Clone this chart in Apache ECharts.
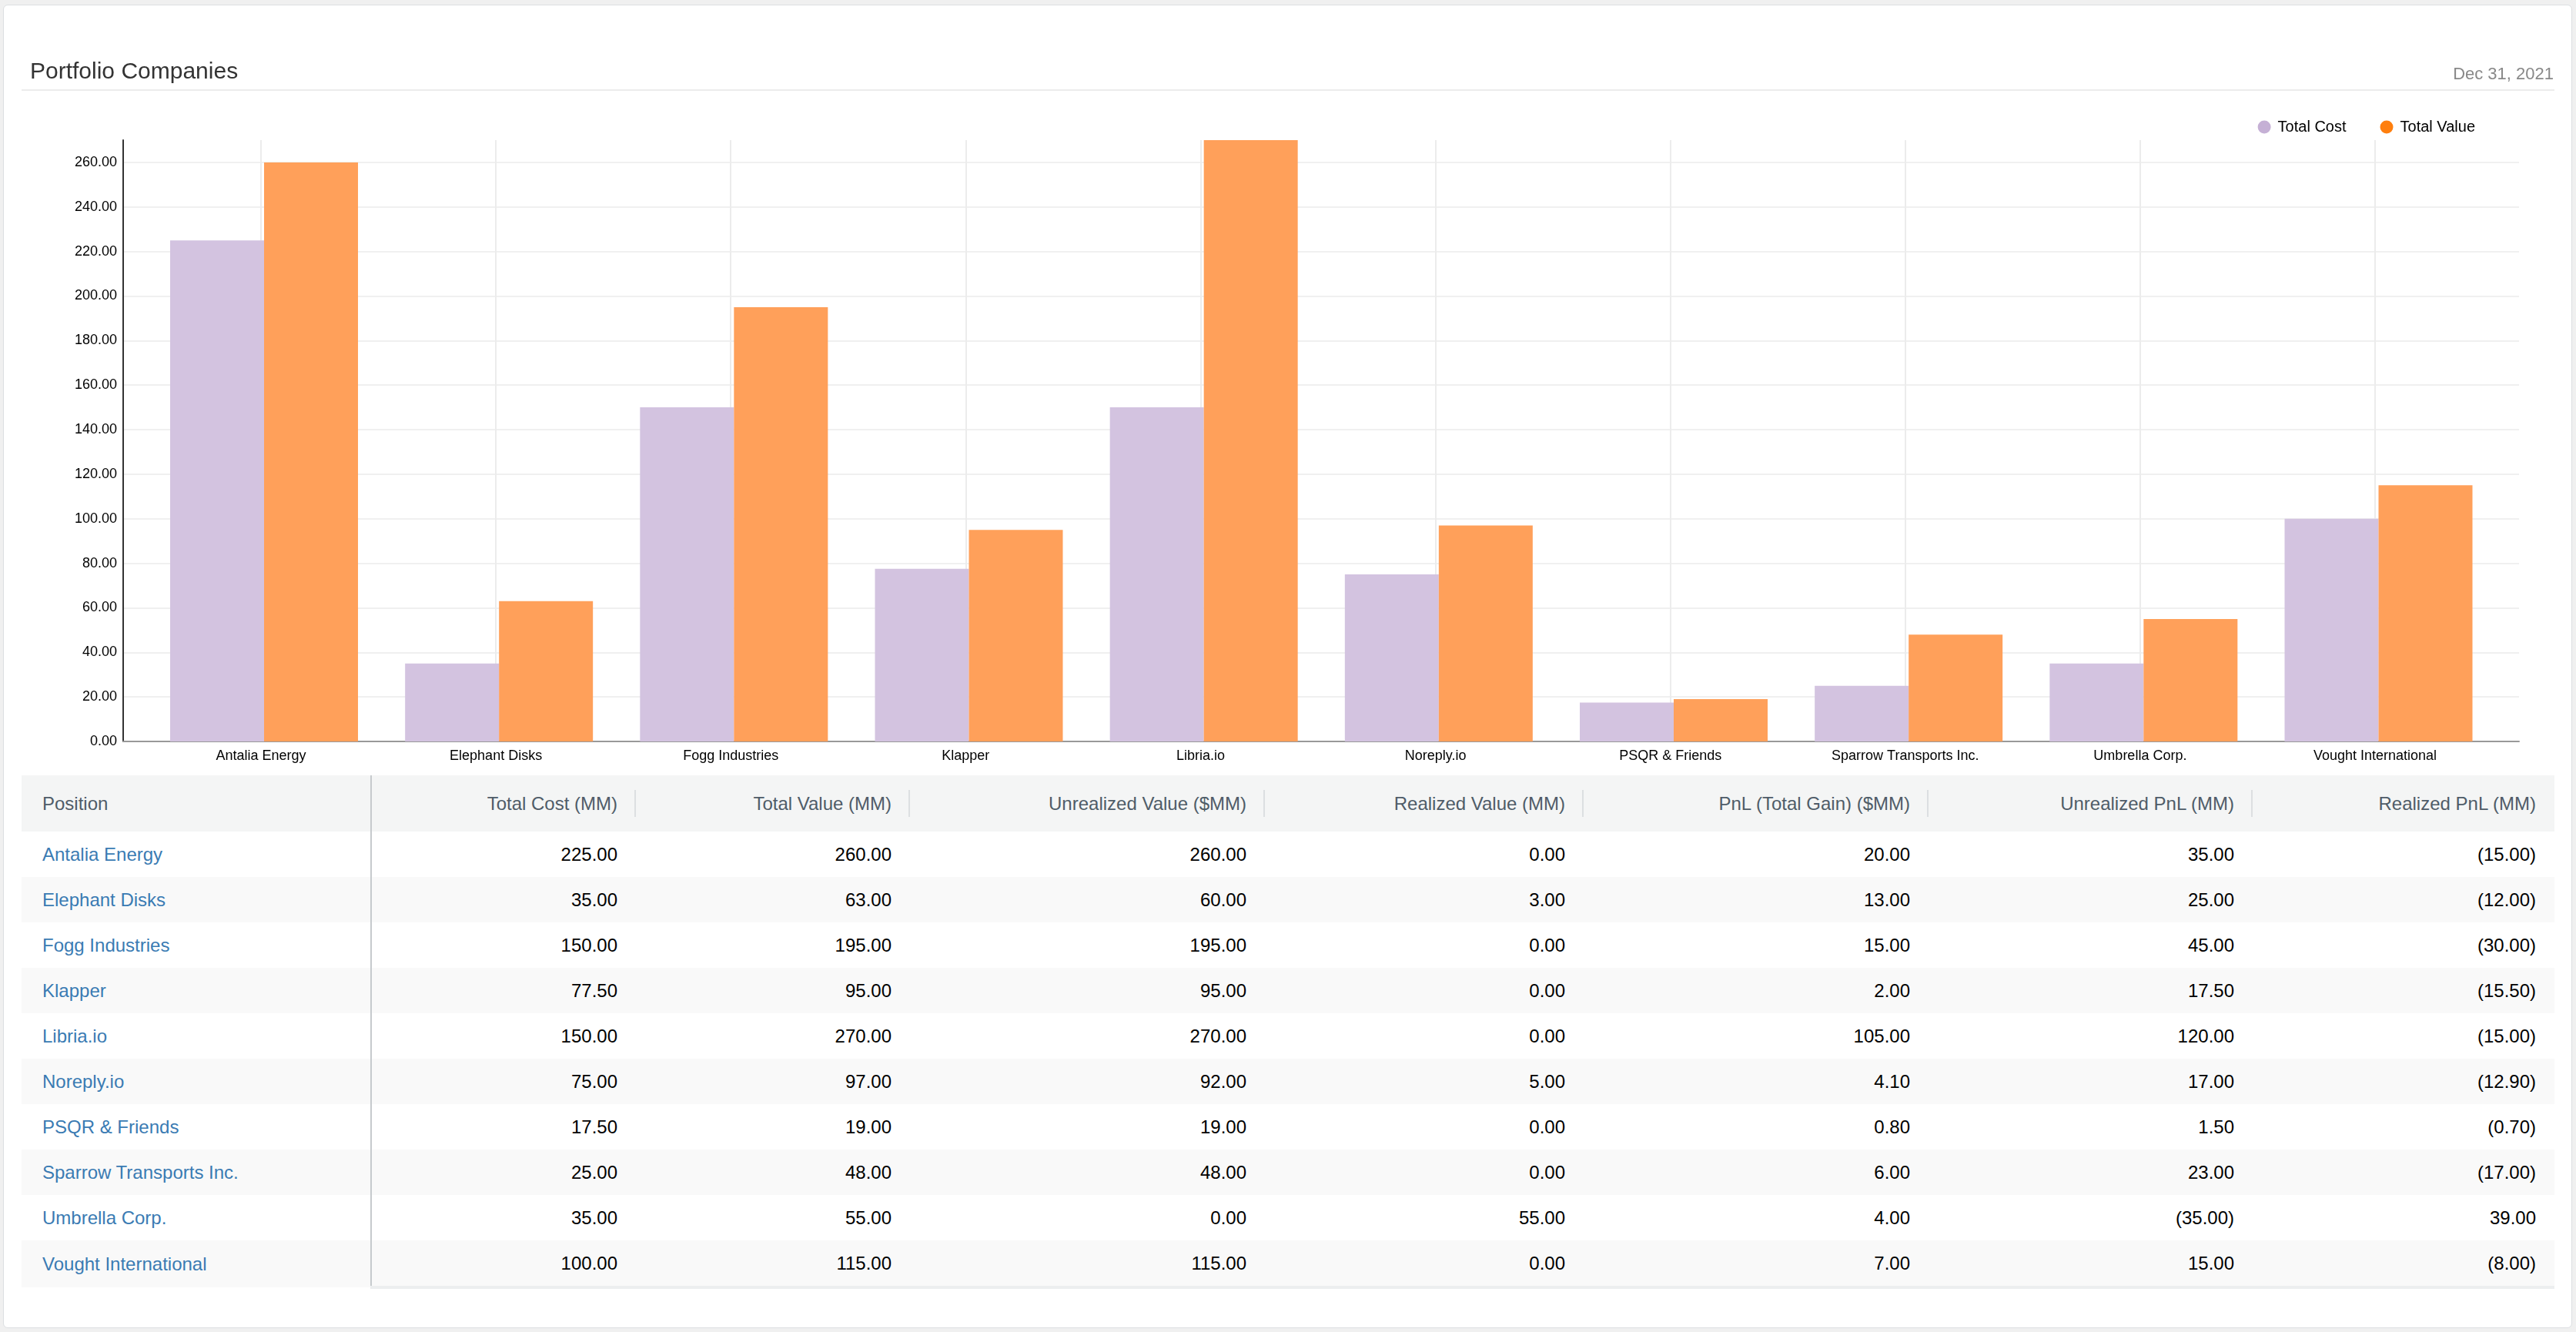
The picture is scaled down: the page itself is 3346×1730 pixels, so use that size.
<!DOCTYPE html>
<html>
<head>
<meta charset="utf-8">
<title>Portfolio Companies</title>
<script src="https://cdn.jsdelivr.net/npm/echarts@6/dist/echarts.min.js"></script>
<style>
  html, body { margin: 0; padding: 0; background: #f0f0f0; }
  body { width: 3346px; height: 1730px; position: relative; overflow: hidden; font-family: "Liberation Sans", Arial, Helvetica, sans-serif; }
  .card { position: absolute; left: 4px; top: 6px; width: 3335px; height: 1717px; background: #fff; border: 1px solid #dcdfe2; border-radius: 6px; }
  #brokeBar { position: absolute; left: 0; top: 0; width: 3346px; height: 1000px; }
  table.positions { position: absolute; left: 28px; top: 1007px; width: 3290px; border-collapse: collapse; table-layout: fixed; font-size: 24px; }
  table.positions th { height: 73px; background: #f4f5f5; color: #4f5c68; font-weight: normal; text-align: right; padding: 0 24px 0 0; position: relative; }
  table.positions td { height: 59px; text-align: right; padding: 0 24px 0 0; color: #000; }
  table.positions th:first-child, table.positions td:first-child { text-align: left; padding: 0 0 0 27px; border-right: 2px solid #c6cacd; }
  table.positions th:not(:first-child):not(:last-child)::after { content: ''; position: absolute; right: 0; top: 19px; width: 2px; height: 35px; background: #dcdfe1; }
  table.positions tbody tr:nth-child(even) td { background: #f9f9f9; }
  table.positions tbody tr:last-child td:not(:first-child) { border-bottom: 4px solid #eceeef; }
  table.positions a { color: #3a7bb3; text-decoration: none; }
</style>
</head>
<body>
<div class="card"></div>
<div id="brokeBar"></div>
<table class="positions" id="positions"></table>
<script>
var companies = ['Antalia Energy', 'Elephant Disks', 'Fogg Industries', 'Klapper', 'Libria.io', 'Noreply.io', 'PSQR & Friends', 'Sparrow Transports Inc.', 'Umbrella Corp.', 'Vought International']
var totalCost = [225, 35, 150, 77.5, 150, 75, 17.5, 25, 35, 100]
var totalValue = [260, 63, 195, 95, 270, 97, 19, 48, 55, 115]
var unrealizedValue = [260, 60, 195, 95, 270, 92, 19, 48, 0, 115]
var realizedValue = [0, 3, 0, 0, 0, 5, 0, 0, 55, 0]
var pnlTotal = [20, 13, 15, 2, 105, 4.1, 0.8, 6, 4, 7]
var unrealizedPnl = [35, 25, 45, 17.5, 120, 17, 1.5, 23, -35, 15]
var realizedPnl = [-15, -12, -30, -15.5, -15, -12.9, -0.7, -17, 39, -8]
var tableHeaders = ['Position', 'Total Cost (MM)', 'Total Value (MM)', 'Unrealized Value ($MM)', 'Realized Value (MM)', 'PnL (Total Gain) ($MM)', 'Unrealized PnL (MM)', 'Realized PnL (MM)']
var columnWidths = [454, 344, 356, 461, 414, 448, 421, 392]

var fontFamily = '"Liberation Sans", Arial, Helvetica, sans-serif'
var myChart = echarts.init(document.getElementById('brokeBar'))

var option = {
  animation: false,
  textStyle: { fontFamily: fontFamily },
  title: [
    {
      text: 'Portfolio Companies',
      left: 34,
      top: 74,
      textStyle: { fontSize: 30, fontWeight: 'normal', color: '#333', fontFamily: fontFamily }
    },
    {
      text: 'Dec 31, 2021',
      right: 24,
      top: 81,
      textStyle: { fontSize: 22, fontWeight: 'normal', color: '#888', fontFamily: fontFamily }
    }
  ],
  graphic: [
    {
      type: 'line',
      shape: { x1: 28, y1: 117, x2: 3318, y2: 117 },
      style: { stroke: '#ececec', lineWidth: 2 }
    }
  ],
  legend: {
    right: 126,
    top: 150,
    icon: 'circle',
    itemWidth: 17,
    itemHeight: 17,
    itemGap: 44,
    textStyle: { fontSize: 20, color: '#000', padding: [0, 0, 0, 4] },
    data: [
      { name: 'Total Cost', itemStyle: { color: '#c5b0d5' } },
      { name: 'Total Value', itemStyle: { color: '#ff7f0e' } }
    ]
  },
  grid: [
    // 网格 + 轴线
    { left: 160, right: 74, top: 182, height: 781 },
    // 类目标签 + 竖向网格线
    { left: 339, right: 261, top: 182, height: 781 },
    // 柱子
    { left: 343, right: 256.5, top: 182, height: 781 }
  ],
  xAxis: [
    {
      gridIndex: 0,
      type: 'value',
      min: 0,
      max: 1,
      axisLine: { show: true, lineStyle: { color: '#999', width: 2 } },
      axisTick: { show: false },
      axisLabel: { show: false },
      splitLine: { show: false }
    },
    {
      gridIndex: 1,
      type: 'category',
      boundaryGap: false,
      data: companies,
      axisLine: { show: false },
      axisTick: { show: false },
      axisLabel: { interval: 0, fontSize: 18, color: '#000', margin: 10 },
      splitLine: { show: true, interval: 0, lineStyle: { color: '#ececec', width: 2 } }
    },
    {
      gridIndex: 2,
      type: 'category',
      boundaryGap: false,
      data: companies,
      show: false
    }
  ],
  yAxis: [
    {
      gridIndex: 0,
      type: 'value',
      min: 0,
      max: 270,
      interval: 20,
      axisLine: { show: true, lineStyle: { color: '#333', width: 2 } },
      axisTick: { show: false },
      axisLabel: {
        fontSize: 18,
        color: '#000',
        margin: 8,
        showMaxLabel: false,
        formatter: function (v) {
          return v.toFixed(2)
        }
      },
      splitLine: { show: true, showMaxLine: false, lineStyle: { color: '#f0f0f0', width: 2 } }
    },
    { gridIndex: 1, type: 'value', min: 0, max: 270, show: false, splitLine: { show: false } },
    { gridIndex: 2, type: 'value', min: 0, max: 270, show: false, splitLine: { show: false } }
  ],
  series: [
    {
      name: 'Total Cost',
      type: 'bar',
      xAxisIndex: 2,
      yAxisIndex: 2,
      barWidth: 122,
      barGap: '0%',
      clip: false,
      itemStyle: { color: '#d3c3e0' },
      data: totalCost
    },
    {
      name: 'Total Value',
      type: 'bar',
      xAxisIndex: 2,
      yAxisIndex: 2,
      barWidth: 122,
      barGap: '0%',
      clip: false,
      itemStyle: { color: '#ffa05a' },
      data: totalValue
    }
  ]
}
myChart.setOption(option, true)

// 表格
function fmt(v) {
  var s = Math.abs(v).toFixed(2)
  return v < 0 ? '(' + s + ')' : s
}
var html = '<colgroup>'
for (var c = 0; c < columnWidths.length; c++) {
  html += '<col style="width:' + columnWidths[c] + 'px">'
}
html += '</colgroup><thead><tr>'
for (var h = 0; h < tableHeaders.length; h++) {
  html += '<th>' + tableHeaders[h] + '</th>'
}
html += '</tr></thead><tbody>'
for (var i = 0; i < companies.length; i++) {
  html +=
    '<tr><td><a href="#">' + companies[i].replace('&', '&amp;') + '</a></td>' +
    '<td>' + fmt(totalCost[i]) + '</td>' +
    '<td>' + fmt(totalValue[i]) + '</td>' +
    '<td>' + fmt(unrealizedValue[i]) + '</td>' +
    '<td>' + fmt(realizedValue[i]) + '</td>' +
    '<td>' + fmt(pnlTotal[i]) + '</td>' +
    '<td>' + fmt(unrealizedPnl[i]) + '</td>' +
    '<td>' + fmt(realizedPnl[i]) + '</td></tr>'
}
html += '</tbody>'
document.getElementById('positions').innerHTML = html

window.onresize = function () {
  myChart.resize()
}
</script>
</body>
</html>
